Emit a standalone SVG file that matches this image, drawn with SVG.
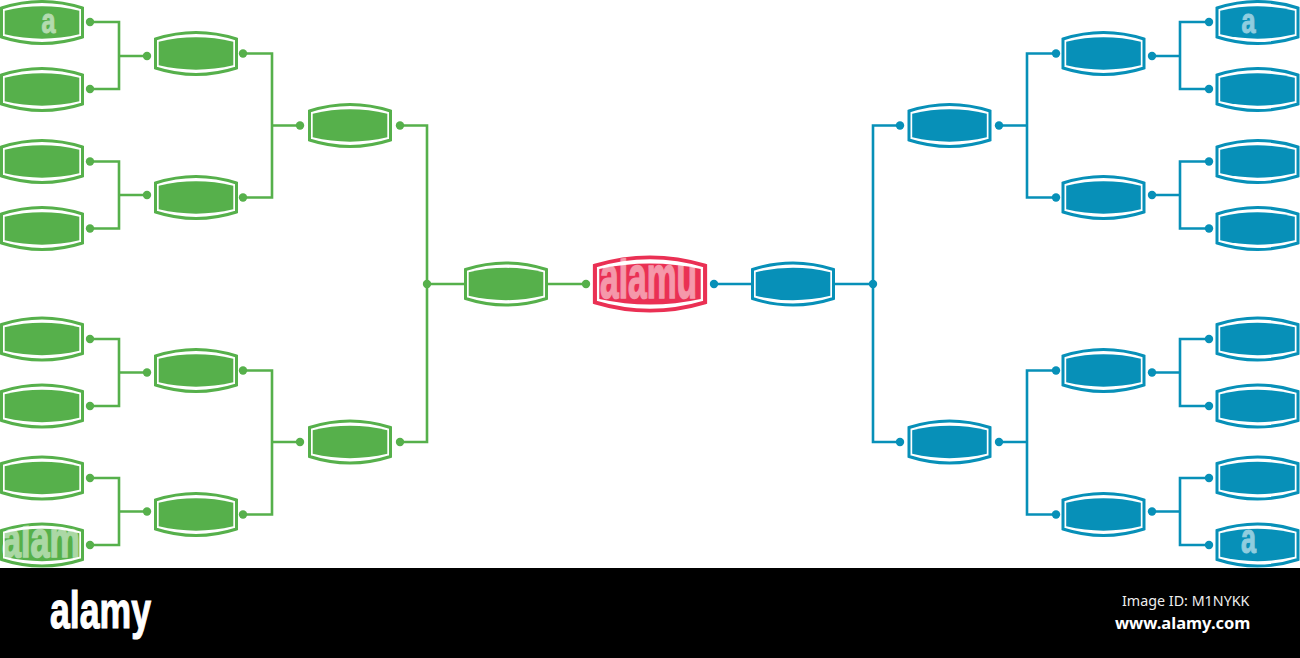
<svg xmlns="http://www.w3.org/2000/svg" width="1300" height="658" viewBox="0 0 1300 658">
<style>
.g{color:#56b04b}
.b{color:#0790b8}
.r{color:#ea3154}
.o{fill:#fff;stroke:currentColor;stroke-width:3}
.i{fill:currentColor}
.lg{fill:none;stroke:#56b04b;stroke-width:2.600}
.lb{fill:none;stroke:#0790b8;stroke-width:2.600}
.wm{font-family:"Liberation Sans",Arial,sans-serif;font-weight:700;fill:#fff;text-anchor:middle}
</style>
<defs>
<g id="n"><path class="o" d="M-40.500,-14.500Q0,-27.500 40.500,-14.500V14.500Q0,27.500 -40.500,14.500Z"/><path class="i" d="M-37.300,-11.800Q0,-20.500 37.300,-11.800V11.800Q0,20.500 -37.300,11.800Z"/></g>
<clipPath id="cf"><path d="M594,265Q650,247 706,265V303Q650,321 594,303Z"/></clipPath>
<clipPath id="cl"><path d="M0,531Q42,518 84,531V559Q42,572 0,559Z"/></clipPath>
<circle id="dg" r="4.200" fill="#56b04b"/>
<circle id="db" r="4.200" fill="#0790b8"/>
</defs>
<rect width="1300" height="658" fill="#fff"/>
<g id="connectors">
<path class="lg" d="M90,22H119V89H90M119,56H147M90,161.500H119V228.500H90M119,195H147M90,339H119V406H90M119,372.500H147M90,478H119V545H90M119,511.500H147"/>
<path class="lg" d="M243,53.500H272V197.500H243M272,125.500H300M243,370.500H272V514.500H243M272,442H300M400,125.500H427V442H400M427,284H586"/>
<path class="lb" d="M1209,22H1180V89H1209M1180,56H1152M1209,161.500H1180V228.500H1209M1180,195H1152M1209,339H1180V406H1209M1180,372.500H1152M1209,478H1180V545H1209M1180,511.500H1152"/>
<path class="lb" d="M1056,53.500H1027V197.500H1056M1027,125.500H999M1056,370.500H1027V514.500H1056M1027,442H999M900,125.500H873V442H900M873,284H714"/>
<g id="dots-green">
<use href="#dg" x="90" y="22"/><use href="#dg" x="90" y="89"/><use href="#dg" x="147" y="56"/>
<use href="#dg" x="90" y="161.500"/><use href="#dg" x="90" y="228.500"/><use href="#dg" x="147" y="195"/>
<use href="#dg" x="90" y="339"/><use href="#dg" x="90" y="406"/><use href="#dg" x="147" y="372.500"/>
<use href="#dg" x="90" y="478"/><use href="#dg" x="90" y="545"/><use href="#dg" x="147" y="511.500"/>
<use href="#dg" x="243" y="53.500"/><use href="#dg" x="243" y="197.500"/><use href="#dg" x="300" y="125.500"/>
<use href="#dg" x="243" y="370.500"/><use href="#dg" x="243" y="514.500"/><use href="#dg" x="300" y="442"/>
<use href="#dg" x="400" y="125.500"/><use href="#dg" x="400" y="442"/><use href="#dg" x="427" y="284"/><use href="#dg" x="586" y="284"/>
</g>
<g id="dots-blue">
<use href="#db" x="1209" y="22"/><use href="#db" x="1209" y="89"/><use href="#db" x="1152" y="56"/>
<use href="#db" x="1209" y="161.500"/><use href="#db" x="1209" y="228.500"/><use href="#db" x="1152" y="195"/>
<use href="#db" x="1209" y="339"/><use href="#db" x="1209" y="406"/><use href="#db" x="1152" y="372.500"/>
<use href="#db" x="1209" y="478"/><use href="#db" x="1209" y="545"/><use href="#db" x="1152" y="511.500"/>
<use href="#db" x="1056" y="53.500"/><use href="#db" x="1056" y="197.500"/><use href="#db" x="999" y="125.500"/>
<use href="#db" x="1056" y="370.500"/><use href="#db" x="1056" y="514.500"/><use href="#db" x="999" y="442"/>
<use href="#db" x="900" y="125.500"/><use href="#db" x="900" y="442"/><use href="#db" x="873" y="284"/><use href="#db" x="714" y="284"/>
</g>
</g>
<g id="g1" class="g" transform="translate(42,22.500)"><use href="#n"/><text class="wm" x="6.500" y="10.500" opacity=".55" textLength="14" lengthAdjust="spacingAndGlyphs" stroke="#fff" style="font-size:35px">a</text></g>
<g id="g2" class="g" transform="translate(42,89.500)"><use href="#n"/></g>
<g id="g3" class="g" transform="translate(42,161.500)"><use href="#n"/></g>
<g id="g4" class="g" transform="translate(42,228.500)"><use href="#n"/></g>
<g id="g5" class="g" transform="translate(42,339)"><use href="#n"/></g>
<g id="g6" class="g" transform="translate(42,406)"><use href="#n"/></g>
<g id="g7" class="g" transform="translate(42,478)"><use href="#n"/></g>
<g id="g8" class="g"><use href="#n" x="42" y="545"/><text class="wm" x="41" y="557" opacity=".5" textLength="78" lengthAdjust="spacingAndGlyphs" stroke="#fff" stroke-width="1.500" clip-path="url(#cl)" style="font-size:52px">alam</text></g>
<g id="g9" class="g" transform="translate(196,53.500)"><use href="#n"/></g>
<g id="g10" class="g" transform="translate(196,197.500)"><use href="#n"/></g>
<g id="g11" class="g" transform="translate(196,370.500)"><use href="#n"/></g>
<g id="g12" class="g" transform="translate(196,514.500)"><use href="#n"/></g>
<g id="g13" class="g" transform="translate(350,125.500)"><use href="#n"/></g>
<g id="g14" class="g" transform="translate(350,442)"><use href="#n"/></g>
<g id="g15" class="g" transform="translate(506,284)"><use href="#n"/></g>
<g id="final" class="r"><use href="#n" transform="translate(650,284) scale(1.360,1.270)"/><text class="wm" x="648.500" y="298" opacity=".5" textLength="97" lengthAdjust="spacingAndGlyphs" stroke="#fff" stroke-width="1.500" clip-path="url(#cf)" style="font-size:62px">alamu</text></g>
<g id="b15" class="b" transform="translate(793,284)"><use href="#n"/></g>
<g id="b13" class="b" transform="translate(949.500,125.500)"><use href="#n"/></g>
<g id="b14" class="b" transform="translate(949.500,442)"><use href="#n"/></g>
<g id="b9" class="b" transform="translate(1103.500,53.500)"><use href="#n"/></g>
<g id="b10" class="b" transform="translate(1103.500,197.500)"><use href="#n"/></g>
<g id="b11" class="b" transform="translate(1103.500,370.500)"><use href="#n"/></g>
<g id="b12" class="b" transform="translate(1103.500,514.500)"><use href="#n"/></g>
<g id="b1" class="b" transform="translate(1257.500,22.500)"><use href="#n"/><text class="wm" x="-9" y="10.500" opacity=".55" textLength="14" lengthAdjust="spacingAndGlyphs" stroke="#fff" style="font-size:35px">a</text></g>
<g id="b2" class="b" transform="translate(1257.500,89.500)"><use href="#n"/></g>
<g id="b3" class="b" transform="translate(1257.500,161.500)"><use href="#n"/></g>
<g id="b4" class="b" transform="translate(1257.500,228.500)"><use href="#n"/></g>
<g id="b5" class="b" transform="translate(1257.500,339)"><use href="#n"/></g>
<g id="b6" class="b" transform="translate(1257.500,406)"><use href="#n"/></g>
<g id="b7" class="b" transform="translate(1257.500,478)"><use href="#n"/></g>
<g id="b8" class="b" transform="translate(1257.500,545)"><use href="#n"/><text class="wm" x="-9" y="8" opacity=".55" textLength="15" lengthAdjust="spacingAndGlyphs" stroke="#fff" style="font-size:42px">a</text></g>
<g id="footer">
<rect y="568" width="1300" height="90" fill="#000"/>
<text class="wm" x="100.500" y="628" textLength="101" lengthAdjust="spacingAndGlyphs" stroke="#fff" stroke-width="1.200" style="font-size:52px">alamy</text>
<text x="1122" y="606" fill="#eee" style="font-family:'Noto Sans',sans-serif;font-size:14.300px">Image ID: M1NYKK</text>
<text x="1115" y="629" fill="#fff" style="font-family:'Noto Sans',sans-serif;font-size:16.500px;font-weight:700">www.alamy.com</text>
</g>
</svg>
